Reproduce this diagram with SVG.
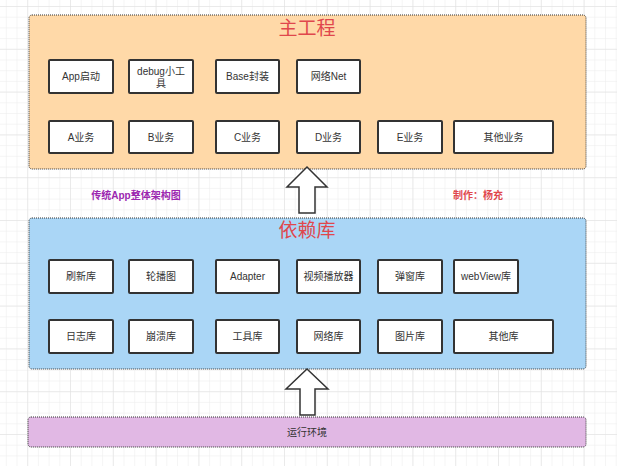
<svg xmlns="http://www.w3.org/2000/svg" width="617" height="466" viewBox="0 0 617 466">
<defs>
<pattern id="minor" width="10.7" height="10.7" patternUnits="userSpaceOnUse" x="27.2" y="6">
<path d="M0 0H10.7M0 0V10.7" fill="none" stroke="#ececec" stroke-width="1"/>
</pattern>
<pattern id="major" width="42.8" height="42.8" patternUnits="userSpaceOnUse" x="27.2" y="6">
<path d="M0 0H42.8M0 0V42.8" fill="none" stroke="#e0e0e0" stroke-width="1"/>
</pattern>
<style>
.box{fill:#fff;stroke:#333;stroke-width:2}
.t{font-family:"Liberation Sans","Noto Sans CJK SC",sans-serif;font-size:10px;fill:#333;text-anchor:middle;dominant-baseline:central}
.cont{stroke:#333;stroke-width:1;stroke-dasharray:1 1}
.title{font-family:"Liberation Sans","Noto Sans CJK SC",sans-serif;font-size:19px;fill:#e0474c;text-anchor:middle;dominant-baseline:central}
.arrow{fill:#fff;stroke:#333;stroke-width:1.5;stroke-linejoin:miter}
</style>
</defs>
<rect width="617" height="466" fill="#fff"/>
<rect width="617" height="466" fill="url(#minor)"/>
<rect width="617" height="466" fill="url(#major)"/>

<g id="main">
<rect class="cont" x="29" y="15" width="557" height="154" rx="3" fill="#ffd9a8"/>
<text class="title" x="307" y="28">主工程</text>
</g>
<g id="n-app"><rect class="box" x="49" y="60" width="64" height="33" rx="1"/><text class="t" x="81" y="76.5">App启动</text></g>
<g id="n-debug"><rect class="box" x="129" y="60" width="64" height="33" rx="1"/><text class="t" x="161" y="71">debug小工</text><text class="t" x="161" y="83">具</text></g>
<g id="n-base"><rect class="box" x="216" y="60" width="63" height="33" rx="1"/><text class="t" x="247.5" y="76.5">Base封装</text></g>
<g id="n-net"><rect class="box" x="297" y="60" width="63" height="33" rx="1"/><text class="t" x="328.5" y="76.5">网络Net</text></g>
<g id="n-a"><rect class="box" x="49" y="121" width="64" height="32" rx="1"/><text class="t" x="81" y="137">A业务</text></g>
<g id="n-b"><rect class="box" x="129" y="121" width="64" height="32" rx="1"/><text class="t" x="161" y="137">B业务</text></g>
<g id="n-c"><rect class="box" x="216" y="121" width="63" height="32" rx="1"/><text class="t" x="247.5" y="137">C业务</text></g>
<g id="n-d"><rect class="box" x="297" y="121" width="63" height="32" rx="1"/><text class="t" x="328.5" y="137">D业务</text></g>
<g id="n-e"><rect class="box" x="378" y="121" width="64" height="32" rx="1"/><text class="t" x="410" y="137">E业务</text></g>
<g id="n-other"><rect class="box" x="454" y="121" width="99" height="32" rx="1"/><text class="t" x="503.5" y="137">其他业务</text></g>

<g id="lib">
<rect class="cont" x="29" y="218" width="557" height="151" rx="3" fill="#aad6f6"/>
<text class="title" x="307" y="230">依赖库</text>
</g>
<g id="l-refresh"><rect class="box" x="49" y="260" width="64" height="33" rx="1"/><text class="t" x="81" y="276.5">刷新库</text></g>
<g id="l-banner"><rect class="box" x="129" y="260" width="64" height="33" rx="1"/><text class="t" x="161" y="276.5">轮播图</text></g>
<g id="l-adapter"><rect class="box" x="216" y="260" width="63" height="33" rx="1"/><text class="t" x="247.5" y="276.5">Adapter</text></g>
<g id="l-video"><rect class="box" x="297" y="260" width="63" height="33" rx="1"/><text class="t" x="328.5" y="276.5">视频播放器</text></g>
<g id="l-dialog"><rect class="box" x="378" y="260" width="64" height="33" rx="1"/><text class="t" x="410" y="276.5">弹窗库</text></g>
<g id="l-web"><rect class="box" x="454" y="260" width="64" height="33" rx="1"/><text class="t" x="486" y="276.5">webView库</text></g>
<g id="l-log"><rect class="box" x="49" y="320" width="64" height="33" rx="1"/><text class="t" x="81" y="336.5">日志库</text></g>
<g id="l-crash"><rect class="box" x="129" y="320" width="64" height="33" rx="1"/><text class="t" x="161" y="336.5">崩溃库</text></g>
<g id="l-tool"><rect class="box" x="216" y="320" width="63" height="33" rx="1"/><text class="t" x="247.5" y="336.5">工具库</text></g>
<g id="l-net"><rect class="box" x="297" y="320" width="63" height="33" rx="1"/><text class="t" x="328.5" y="336.5">网络库</text></g>
<g id="l-img"><rect class="box" x="378" y="320" width="64" height="33" rx="1"/><text class="t" x="410" y="336.5">图片库</text></g>
<g id="l-other"><rect class="box" x="454" y="320" width="99" height="33" rx="1"/><text class="t" x="503.5" y="336.5">其他库</text></g>

<g id="env">
<rect class="cont" x="28" y="417" width="558" height="30" rx="3" fill="#e1b8e4"/>
<text class="t" x="307" y="432">运行环境</text>
</g>

<g id="connectors">
<polygon class="arrow" points="307,167 327,187 315,187 315,213 299,213 299,187 287,187"/>
<polygon class="arrow" points="307,369 328,389 315,389 315,415 300,415 300,389 286,389"/>
</g>

<g id="labels">
<text x="136" y="195" style="font-family:'Liberation Sans','Noto Sans CJK SC',sans-serif;font-size:10px;font-weight:bold;fill:#9c27b0;text-anchor:middle;dominant-baseline:central">传统App整体架构图</text>
<text x="478" y="195" style="font-family:'Liberation Sans','Noto Sans CJK SC',sans-serif;font-size:10px;font-weight:bold;fill:#e0474c;text-anchor:middle;dominant-baseline:central">制作：杨充</text>
</g>
</svg>
